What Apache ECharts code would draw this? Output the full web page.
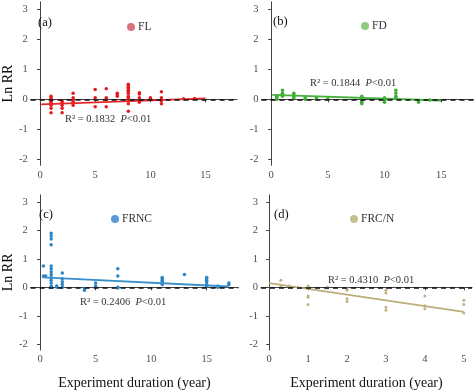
<!DOCTYPE html>
<html><head><meta charset="utf-8">
<script src="https://cdn.jsdelivr.net/npm/echarts@6/dist/echarts.min.js"></script>
<style>html,body{margin:0;padding:0;background:#fff}#c{width:474px;height:391px}</style>
</head><body><div id="c"></div>
<script>
// ---- data ----
const yTicks = [-2, -1, 0, 1, 2, 3];
const xTicksLong = [0, 5, 10, 15];
const xTicksShort = [0, 1, 2, 3, 4, 5];
const panelLabels = ['(a)', '(b)', '(c)', '(d)'];
const seriesNames = ['FL', 'FD', 'FRNC', 'FRC/N'];
const r2Values = ['0.1832', '0.1844', '0.2406', '0.4310'];

const flPoints = [
  [1,-0.45],[1,-0.3],[1,-0.2],[1,-0.15],[1,-0.1],[1,-0.05],[1,0],[1,0.05],[1,0.1],
  [2,-0.45],[2,-0.3],[2,-0.2],[2,-0.1],[2,-0.05],
  [3,0.2],[3,0.05],[3,-0.05],[3,-0.1],[3,-0.2],
  [5,0.33],[5,0.05],[5,-0.25],
  [6,0.35],[6,0.05],[6,0],[6,-0.25],
  [7,0.2],[7,0.15],[7,0.1],
  [8,0.5],[8,0.45],[8,0.4],[8,0.35],[8,0.3],[8,0.25],[8,0.2],[8,0.1],[8,0.05],[8,0],[8,-0.05],[8,-0.15],[8,-0.4],
  [9,0.22],[9,0.18],[9,0.05],[9,-0.05],[9,-0.1],
  [10,0.05],[10,0],
  [11,0.25],[11,0.05],[11,-0.05],[11,-0.15],
  [13,0.02],[14,0.03]
];
const fdPoints = [
  [0.5,0.1],[0.5,0.05],[0.5,0],
  [1,0.3],[1,0.2],[1,0.15],[1,0.1],
  [2,0.2],[2,0.15],[2,0.1],[2,0.05],
  [3,0.05],[3,0],[4,0.05],[4,0],[5,0.02],
  [8,0.1],[8,0.05],[8,0],[8,-0.05],[8,-0.1],[8,-0.15],
  [10,0.05],[10,0],[10,-0.05],[10,-0.1],
  [11,0.3],[11,0.2],[11,0.1],[11,0.05],
  [13,-0.05],[13,-0.1],[14,-0.02]
];
const frncPoints = [
  [0.3,0.75],[0.3,0.4],[0.5,0.4],
  [1,1.9],[1,1.8],[1,1.7],[1,1.5],[1,0.75],[1,0.65],[1,0.55],[1,0.45],[1,0.35],[1,0.25],[1,0.15],[1,0.05],[1,0],
  [1.5,0.05],[1.5,0],
  [2,0.5],[2,0.3],[2,0.2],[2,0.1],[2,0],
  [4,-0.05],[4,-0.1],
  [5,0.15],[5,0.05],
  [7,0.65],[7,0.4],[7,0],[7,-0.02],
  [11,0.35],[11,0.3],[11,0.25],[11,0.2],[11,0.15],[11,0.1],
  [13,0.45],
  [15,0.35],[15,0.3],[15,0.25],[15,0.2],[15,0.1],[15,0.05],
  [16,0.05],[16,0],
  [17,0.15],[17,0.1]
];
const frcnPoints = [
  [0.3,0.25],[0.3,0.05],[0.5,0.05],
  [1,0.05],[1,0],[1,-0.3],[1,-0.35],[1,-0.6],
  [1.5,0],[1.5,-0.02],
  [2,-0.05],[2,-0.1],[2,-0.4],[2,-0.5],
  [3,-0.1],[3,-0.2],[3,-0.7],[3,-0.8],
  [4,-0.3],[4,-0.65],[4,-0.75],
  [5,-0.45],[5,-0.6],[5,-0.9]
];
const flFit = [[0.1,-0.17],[15,0.03]];
const fdFit = [[0.1,0.15],[15,-0.04]];
const frncFit = [[0.2,0.35],[17,0.03]];
const frcnFit = [[0,0.15],[5,-0.86]];

// ---- layout/style ----
const FONT = '"Liberation Serif", "DejaVu Serif", serif';
const pointColors = ['#e41a1c', '#3cac33', '#2a86c6', '#c2b383'];
const lineColors = ['#e8272a', '#45b03c', '#3a8fcb', '#bdae78'];
const legendColors = ['#d9737b', '#8fcc7c', '#5b9bd5', '#c8bf8a'];
const grids = [
  {left: 23, top: 1.8, width: 214, height: 163.5},
  {left: 261.5, top: 1.8, width: 212, height: 163.5},
  {left: 23.3, top: 194.8, width: 215, height: 163.5},
  {left: 261, top: 194.8, width: 211, height: 163.5}
];
const xRanges = [[-0.85,17.85],[-0.85,17.85],[-0.85,17.85],[-0.21,5.21]];
const xTickSets = [xTicksLong, xTicksLong, xTicksLong, xTicksShort];
const pointSets = [flPoints, fdPoints, frncPoints, frcnPoints];
const fitSets = [flFit, fdFit, frncFit, frcnFit];
const labelPos = [[38,16],[273,15],[39,208],[274,208]];
const legendPos = [[122,16],[356,15],[106,208],[345,208]];
const r2Pos = [[65,114],[310,78],[80,297],[328,275]];

const axisLine = {show: true, lineStyle: {color: '#444', width: 1}};
const axisTick = {show: true, length: 3, lineStyle: {color: '#444'}};
const tickLabel = {color: '#4d4d4d', fontFamily: FONT, fontSize: 10.5};

const option = {
  animation: false,
  backgroundColor: '#fff',
  grid: grids,
  xAxis: grids.map((g, i) => ({
    type: 'value', gridIndex: i, min: xRanges[i][0], max: xRanges[i][1],
    axisLine, axisTick: Object.assign({customValues: xTickSets[i]}, axisTick),
    axisLabel: Object.assign({customValues: xTickSets[i], margin: 4}, tickLabel),
    splitLine: {show: false},
    name: i >= 2 ? 'Experiment duration (year)' : '',
    nameLocation: 'middle', nameGap: 26,
    nameTextStyle: {fontFamily: FONT, fontSize: 14, color: '#111'}
  })),
  yAxis: grids.map((g, i) => ({
    type: 'value', gridIndex: i, min: -2.2, max: 3.25,
    axisLine, axisTick: Object.assign({customValues: yTicks}, axisTick),
    axisLabel: Object.assign({customValues: yTicks, margin: 3}, tickLabel),
    splitLine: {show: false},
    name: (i % 2 === 0) ? 'Ln RR' : '',
    nameLocation: 'middle', nameGap: 15, nameRotate: 90,
    nameTextStyle: {fontFamily: FONT, fontSize: 14, color: '#111'}
  })),
  legend: seriesNames.map((n, i) => ({
    left: legendPos[i][0], top: legendPos[i][1],
    icon: 'circle', itemWidth: 8, itemHeight: 8, itemGap: 4,
    textStyle: {fontFamily: FONT, fontSize: 11.5, color: '#333', padding: [0,0,0,-2]},
    data: [{name: n, itemStyle: {color: legendColors[i]}}]
  })),
  title: panelLabels.map((t, i) => ({
    text: t, left: labelPos[i][0], top: labelPos[i][1], padding: 0,
    textStyle: {fontFamily: FONT, fontSize: 12.5, fontWeight: 'normal', color: '#111'}
  })).concat(r2Values.map((r, i) => ({
    text: '{a|R² = ' + r + '  }{i|P}{a|<0.01}',
    left: r2Pos[i][0], top: r2Pos[i][1], padding: 0,
    textStyle: {fontWeight: 'normal', rich: {
      a: {fontFamily: FONT, fontSize: 10.5, color: '#333', fontWeight: 'normal'},
      i: {fontFamily: FONT, fontSize: 10.5, color: '#333', fontWeight: 'normal', fontStyle: 'italic'}
    }}
  }))),
  series: []
};

pointSets.forEach((pts, i) => {
  option.series.push({
    name: seriesNames[i], type: 'scatter', xAxisIndex: i, yAxisIndex: i,
    data: pts, symbolSize: i === 3 ? 3 : 3.5,
    itemStyle: {color: pointColors[i], opacity: 1},
    markLine: {
      silent: true, symbol: ['none', 'none'], label: {show: false},
      lineStyle: {color: '#111', type: [5, 4], width: 1.5},
      data: [{yAxis: 0}]
    }
  });
  option.series.push({
    name: seriesNames[i] + ' fit', type: 'line', xAxisIndex: i, yAxisIndex: i,
    data: fitSets[i], showSymbol: false, symbol: 'none',
    lineStyle: {color: lineColors[i], width: 1.8}, z: 3
  });
});

const chart = echarts.init(document.getElementById('c'), null, {renderer: 'canvas'});
chart.setOption(option);
</script></body></html>
